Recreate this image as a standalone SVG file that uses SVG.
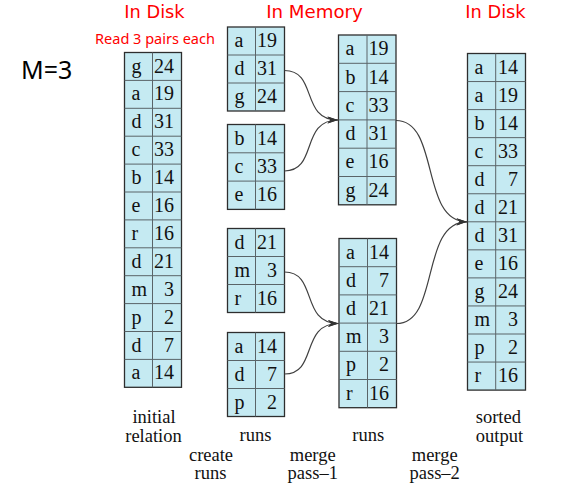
<svg xmlns="http://www.w3.org/2000/svg" width="583" height="500" viewBox="0 0 583 500">
<defs>
<style>
.box{fill:#c5eaf2;stroke:#2e2e2e;stroke-width:1.3}
.in{stroke:#5a6468;stroke-width:1}
.c{font-family:"Liberation Serif",serif;font-size:20px;fill:#111}
.n{font-family:"Liberation Serif",serif;font-size:20px;fill:#111;text-anchor:end}
.red{fill:#ff0000;text-anchor:middle}
.lab{font-family:"Liberation Serif",serif;font-size:18.5px;fill:#111;text-anchor:middle}
.con{fill:none;stroke:#404040;stroke-width:1.2}
</style>
<marker id="ah" markerUnits="userSpaceOnUse" markerWidth="14" markerHeight="10" viewBox="-11 -5 12 10" refX="0" refY="0" orient="auto">
<path d="M0,0 L-10.5,-3.6 L-7.5,0 L-10.5,3.6 Z" fill="#333"/>
</marker>
</defs>
<rect width="583" height="500" fill="#fff"/>

<g id="titles">
<text class="red" x="154.5" y="17.5" font-family="DejaVu Sans,sans-serif" font-size="17.8">In Disk</text>
<text class="red" x="314.5" y="17.5" font-family="DejaVu Sans,sans-serif" font-size="18.2">In Memory</text>
<text class="red" x="495.5" y="17.5" font-family="DejaVu Sans,sans-serif" font-size="17.8">In Disk</text>
<text class="red" x="155" y="43.5" font-family="Noto Sans,sans-serif" font-size="14.5">Read 3 pairs each</text>
<text x="21" y="79" font-family="Noto Sans,sans-serif" font-size="25" fill="#000">M=3</text>
</g>

<g id="initial-relation">
<rect class="box" x="124.5" y="52.5" width="57" height="334.8"/>
<path class="in" d="M152.5,52.5V387.3M124.5,80.4H181.5M124.5,108.3H181.5M124.5,136.2H181.5M124.5,164.1H181.5M124.5,192H181.5M124.5,219.9H181.5M124.5,247.8H181.5M124.5,275.7H181.5M124.5,303.6H181.5M124.5,331.5H181.5M124.5,359.4H181.5"/>
<g class="c">
<text x="131.5" y="72.5">g</text><text x="131.5" y="100.4">a</text><text x="131.5" y="128.3">d</text><text x="131.5" y="156.2">c</text><text x="131.5" y="184.1">b</text><text x="131.5" y="212">e</text><text x="131.5" y="239.9">r</text><text x="131.5" y="267.8">d</text><text x="131.5" y="295.7">m</text><text x="131.5" y="323.6">p</text><text x="131.5" y="351.5">d</text><text x="131.5" y="379.4">a</text>
</g>
<g class="n">
<text x="174" y="72.5">24</text><text x="174" y="100.4">19</text><text x="174" y="128.3">31</text><text x="174" y="156.2">33</text><text x="174" y="184.1">14</text><text x="174" y="212">16</text><text x="174" y="239.9">16</text><text x="174" y="267.8">21</text><text x="174" y="295.7">3</text><text x="174" y="323.6">2</text><text x="174" y="351.5">7</text><text x="174" y="379.4">14</text>
</g>
</g>

<g id="run-1">
<rect class="box" x="227.5" y="27" width="57" height="84"/>
<path class="in" d="M255.5,27V111M227.5,55H284.5M227.5,83H284.5"/>
<g class="c"><text x="234.5" y="47">a</text><text x="234.5" y="75">d</text><text x="234.5" y="103">g</text></g>
<g class="n"><text x="277" y="47">19</text><text x="277" y="75">31</text><text x="277" y="103">24</text></g>
</g>

<g id="run-2">
<rect class="box" x="227.5" y="124.5" width="57" height="84.9"/>
<path class="in" d="M255.5,124.5V209.4M227.5,152.8H284.5M227.5,181.1H284.5"/>
<g class="c"><text x="234.5" y="144.7">b</text><text x="234.5" y="173">c</text><text x="234.5" y="201.3">e</text></g>
<g class="n"><text x="277" y="144.7">14</text><text x="277" y="173">33</text><text x="277" y="201.3">16</text></g>
</g>

<g id="run-3">
<rect class="box" x="227.5" y="228.5" width="57" height="84"/>
<path class="in" d="M255.5,228.5V312.5M227.5,256.5H284.5M227.5,284.5H284.5"/>
<g class="c"><text x="234.5" y="248.5">d</text><text x="234.5" y="276.5">m</text><text x="234.5" y="304.5">r</text></g>
<g class="n"><text x="277" y="248.5">21</text><text x="277" y="276.5">3</text><text x="277" y="304.5">16</text></g>
</g>

<g id="run-4">
<rect class="box" x="227.5" y="332.5" width="57" height="84"/>
<path class="in" d="M255.5,332.5V416.5M227.5,360.5H284.5M227.5,388.5H284.5"/>
<g class="c"><text x="234.5" y="352.5">a</text><text x="234.5" y="380.5">d</text><text x="234.5" y="408.5">p</text></g>
<g class="n"><text x="277" y="352.5">14</text><text x="277" y="380.5">7</text><text x="277" y="408.5">2</text></g>
</g>

<g id="merged-run-1">
<rect class="box" x="338.5" y="35" width="57.5" height="169.8"/>
<path class="in" d="M367,35V204.8M338.5,63.3H396M338.5,91.6H396M338.5,119.9H396M338.5,148.2H396M338.5,176.5H396"/>
<g class="c"><text x="345.5" y="55.2">a</text><text x="345.5" y="83.5">b</text><text x="345.5" y="111.8">c</text><text x="345.5" y="140.1">d</text><text x="345.5" y="168.4">e</text><text x="345.5" y="196.7">g</text></g>
<g class="n"><text x="388.5" y="55.2">19</text><text x="388.5" y="83.5">14</text><text x="388.5" y="111.8">33</text><text x="388.5" y="140.1">31</text><text x="388.5" y="168.4">16</text><text x="388.5" y="196.7">24</text></g>
</g>

<g id="merged-run-2">
<rect class="box" x="339" y="238.5" width="57.5" height="169.2"/>
<path class="in" d="M367.5,238.5V407.7M339,266.7H396.5M339,294.9H396.5M339,323.1H396.5M339,351.3H396.5M339,379.5H396.5"/>
<g class="c"><text x="346" y="258.6">a</text><text x="346" y="286.8">d</text><text x="346" y="315">d</text><text x="346" y="343.2">m</text><text x="346" y="371.4">p</text><text x="346" y="399.6">r</text></g>
<g class="n"><text x="389" y="258.6">14</text><text x="389" y="286.8">7</text><text x="389" y="315">21</text><text x="389" y="343.2">3</text><text x="389" y="371.4">2</text><text x="389" y="399.6">16</text></g>
</g>

<g id="sorted-output">
<rect class="box" x="467.5" y="53.5" width="58" height="336.6"/>
<path class="in" d="M495.7,53.5V390.1M467.5,81.55H525.5M467.5,109.6H525.5M467.5,137.65H525.5M467.5,165.7H525.5M467.5,193.75H525.5M467.5,221.8H525.5M467.5,249.85H525.5M467.5,277.9H525.5M467.5,305.95H525.5M467.5,334H525.5M467.5,362.05H525.5"/>
<g class="c">
<text x="474.5" y="73.5">a</text><text x="474.5" y="101.6">a</text><text x="474.5" y="129.6">b</text><text x="474.5" y="157.7">c</text><text x="474.5" y="185.7">d</text><text x="474.5" y="213.8">d</text><text x="474.5" y="241.8">d</text><text x="474.5" y="269.9">e</text><text x="474.5" y="297.9">g</text><text x="474.5" y="326">m</text><text x="474.5" y="354">p</text><text x="474.5" y="382.1">r</text>
</g>
<g class="n">
<text x="518" y="73.5">14</text><text x="518" y="101.6">19</text><text x="518" y="129.6">14</text><text x="518" y="157.7">33</text><text x="518" y="185.7">7</text><text x="518" y="213.8">21</text><text x="518" y="241.8">31</text><text x="518" y="269.9">16</text><text x="518" y="297.9">24</text><text x="518" y="326">3</text><text x="518" y="354">2</text><text x="518" y="382.1">16</text>
</g>
</g>

<g id="connectors">
<path class="con" d="M284.5,70.5 C318,70.5 300,120 338,120" marker-end="url(#ah)"/>
<path class="con" d="M284.5,171 C318,171 300,120 338,120" marker-end="url(#ah)"/>
<path class="con" d="M284.5,272 C318,272 300,323.5 338.5,323.5" marker-end="url(#ah)"/>
<path class="con" d="M284.5,374 C318,374 300,323.5 338.5,323.5" marker-end="url(#ah)"/>
<path class="con" d="M396,120.5 C440,120.5 420,221.8 467,221.8" marker-end="url(#ah)"/>
<path class="con" d="M396.5,323.5 C440,323.5 420,221.8 467,221.8" marker-end="url(#ah)"/>
</g>

<g id="labels">
<text class="lab" x="154" y="423.3">initial</text>
<text class="lab" x="153.5" y="441.7">relation</text>
<text class="lab" x="255.5" y="440.7">runs</text>
<text class="lab" x="368.3" y="440.7">runs</text>
<text class="lab" x="498.3" y="423.3">sorted</text>
<text class="lab" x="499.5" y="441.7">output</text>
<text class="lab" x="211" y="461">create</text>
<text class="lab" x="210.5" y="479.3">runs</text>
<text class="lab" x="312.7" y="461">merge</text>
<text class="lab" x="312.8" y="479.3">pass–1</text>
<text class="lab" x="434.7" y="461">merge</text>
<text class="lab" x="434.7" y="479.3">pass–2</text>
</g>
</svg>
